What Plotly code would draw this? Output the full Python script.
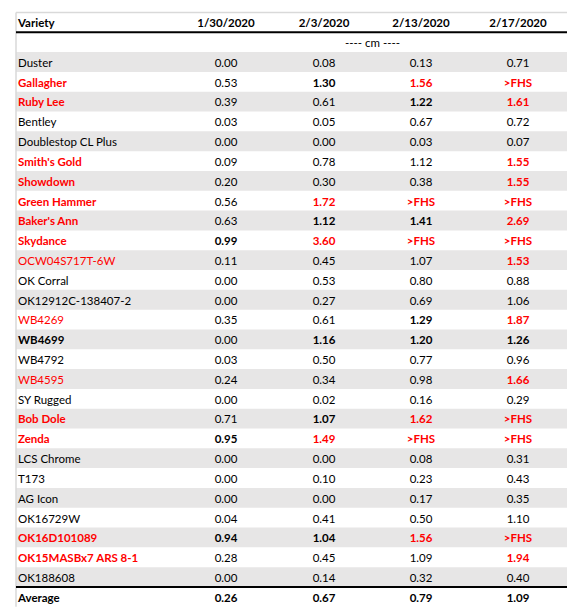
import plotly.graph_objects as go

# ---- data ----
dates = ['1/30/2020', '2/3/2020', '2/13/2020', '2/17/2020']
unit_label = '---- cm ----'
FHS = '>FHS'

varieties = ['Duster', 'Gallagher', 'Ruby Lee', 'Bentley', 'Doublestop CL Plus',
             "Smith's Gold", 'Showdown', 'Green Hammer', "Baker's Ann", 'Skydance',
             'OCW04S717T-6W', 'OK Corral', 'OK12912C-138407-2', 'WB4269', 'WB4699',
             'WB4792', 'WB4595', 'SY Rugged', 'Bob Dole', 'Zenda', 'LCS Chrome',
             'T173', 'AG Icon', 'OK16729W', 'OK16D101089', 'OK15MASBx7 ARS 8-1',
             'OK188608']

jan30 = [0.00, 0.53, 0.39, 0.03, 0.00, 0.09, 0.20, 0.56, 0.63, 0.99, 0.11, 0.00, 0.00,
         0.35, 0.00, 0.03, 0.24, 0.00, 0.71, 0.95, 0.00, 0.00, 0.00, 0.04, 0.94, 0.28, 0.00]
feb3 = [0.08, 1.30, 0.61, 0.05, 0.00, 0.78, 0.30, 1.72, 1.12, 3.60, 0.45, 0.53, 0.27,
        0.61, 1.16, 0.50, 0.34, 0.02, 1.07, 1.49, 0.00, 0.10, 0.00, 0.41, 1.04, 0.45, 0.14]
feb13 = [0.13, 1.56, 1.22, 0.67, 0.03, 1.12, 0.38, FHS, 1.41, FHS, 1.07, 0.80, 0.69,
         1.29, 1.20, 0.77, 0.98, 0.16, 1.62, FHS, 0.08, 0.23, 0.17, 0.50, 1.56, 1.09, 0.32]
feb17 = [0.71, FHS, 1.61, 0.72, 0.07, 1.55, 1.55, FHS, 2.69, FHS, 1.53, 0.88, 1.06,
         1.87, 1.26, 0.96, 1.66, 0.29, FHS, FHS, 0.31, 0.43, 0.35, 1.10, FHS, 1.94, 0.40]
averages = [0.26, 0.67, 0.79, 1.09]

# highlighting from the sheet
red_names_bold = ['Gallagher', 'Ruby Lee', "Smith's Gold", 'Showdown', 'Green Hammer',
                  "Baker's Ann", 'Skydance', 'Bob Dole', 'Zenda', 'OK16D101089',
                  'OK15MASBx7 ARS 8-1']
red_names_plain = ['OCW04S717T-6W', 'WB4269', 'WB4595']
bold_names = ['WB4699']
bold_cells = {('Gallagher', 1), ('Ruby Lee', 2), ("Baker's Ann", 1), ("Baker's Ann", 2),
              ('Skydance', 0), ('WB4269', 2), ('WB4699', 1), ('WB4699', 2), ('WB4699', 3),
              ('Bob Dole', 1), ('Zenda', 0), ('OK16D101089', 0), ('OK16D101089', 1)}
red_cells = {('Gallagher', 2), ('Gallagher', 3), ('Ruby Lee', 3), ("Smith's Gold", 3),
             ('Showdown', 3), ('Green Hammer', 1), ('Green Hammer', 2), ('Green Hammer', 3),
             ("Baker's Ann", 3), ('Skydance', 1), ('Skydance', 2), ('Skydance', 3),
             ('OCW04S717T-6W', 3), ('WB4269', 3), ('WB4595', 3), ('Bob Dole', 2),
             ('Bob Dole', 3), ('Zenda', 1), ('Zenda', 2), ('Zenda', 3), ('OK16D101089', 2),
             ('OK16D101089', 3), ('OK15MASBx7 ARS 8-1', 3)}

RED = '#ff0000'
BLACK = '#000000'
BAND = '#e7e6e6'
EDGE = '#d9d9d9'
FONT = 'Lato, "Noto Sans", sans-serif'
SIZE = 11.5

# page is 584x616, the html body adds an 8px margin, so the figure is 576x608
# and the axes are set up in page pixels (x) / row units (y)
PAGE_W, PAGE_H, BODY = 584, 616, 8
ROW = 19.81
TOP_TEXT = 64          # page pixel y of first data row text
LEFT, RIGHT = 16, 567
name_x = 18
col_x = [226, 324, 421, 518]
n = len(varieties)
avg_row = n
header_row = -2
unit_row = -1


def fmt(v):
    return v if isinstance(v, str) else f'{v:.2f}'


fig = go.Figure()

# alternating grey bands (every other data row, starting with the first)
shapes = []
for i in range(0, n, 2):
    shapes.append(dict(type='rect', xref='x', yref='y', x0=LEFT, x1=RIGHT,
                       y0=i - 0.6, y1=i + 0.4, fillcolor=BAND, line_width=0, layer='below'))
# outer light border (top + left)
shapes.append(dict(type='line', xref='x', yref='y', x0=LEFT, x1=RIGHT,
                   y0=header_row - 0.6, y1=header_row - 0.6, line=dict(color=EDGE, width=1.5)))
shapes.append(dict(type='line', xref='x', yref='y', x0=LEFT, x1=LEFT,
                   y0=header_row - 0.6, y1=avg_row + 0.4, line=dict(color=EDGE, width=1.5)))
# heavy rules under header and above average
for yy in (header_row + 0.4, avg_row - 0.6):
    shapes.append(dict(type='line', xref='x', yref='y', x0=LEFT, x1=RIGHT,
                       y0=yy, y1=yy, line=dict(color=BLACK, width=2)))

# header
fig.add_trace(go.Scatter(x=[name_x], y=[header_row], mode='text', text=['<b>Variety</b>'],
                         textposition='middle right', hoverinfo='skip',
                         textfont=dict(family=FONT, size=SIZE, color=BLACK)))
fig.add_trace(go.Scatter(x=col_x, y=[header_row] * len(dates), mode='text',
                         text=[f'<b>{d}</b>' for d in dates], textposition='middle center',
                         hoverinfo='skip', textfont=dict(family=FONT, size=SIZE, color=BLACK)))
fig.add_trace(go.Scatter(x=[(col_x[1] + col_x[2]) / 2], y=[unit_row], mode='text',
                         text=[unit_label], textposition='middle center', hoverinfo='skip',
                         textfont=dict(family=FONT, size=SIZE, color=BLACK)))

# variety names
name_txt, name_col = [], []
for v in varieties:
    if v in red_names_bold:
        name_txt.append(f'<b>{v}</b>'); name_col.append(RED)
    elif v in red_names_plain:
        name_txt.append(v); name_col.append(RED)
    elif v in bold_names:
        name_txt.append(f'<b>{v}</b>'); name_col.append(BLACK)
    else:
        name_txt.append(v); name_col.append(BLACK)
name_txt.append('<b>Average</b>'); name_col.append(BLACK)
fig.add_trace(go.Scatter(x=[name_x] * (n + 1), y=list(range(n + 1)), mode='text',
                         text=name_txt, textposition='middle right', hoverinfo='skip',
                         textfont=dict(family=FONT, size=SIZE, color=name_col)))

# value columns (red cells are bold red, bold cells bold black)
for c, vals in enumerate([jan30, feb3, feb13, feb17]):
    txt, col = [], []
    for v, val in zip(varieties, vals):
        s = fmt(val)
        if (v, c) in red_cells:
            col.append(RED); txt.append(f'<b>{s}</b>')
        elif (v, c) in bold_cells:
            col.append(BLACK); txt.append(f'<b>{s}</b>')
        else:
            col.append(BLACK); txt.append(s)
    txt.append(f'<b>{fmt(averages[c])}</b>'); col.append(BLACK)
    fig.add_trace(go.Scatter(x=[col_x[c]] * (n + 1), y=list(range(n + 1)), mode='text',
                             text=txt, textposition='middle center', hoverinfo='skip',
                             textfont=dict(family=FONT, size=SIZE, color=col)))

fig.update_layout(
    width=PAGE_W - BODY, height=PAGE_H - BODY,
    margin=dict(l=0, r=0, t=0, b=0),
    paper_bgcolor='white', plot_bgcolor='white',
    showlegend=False,
    shapes=shapes,
    xaxis=dict(range=[BODY, PAGE_W], visible=False, fixedrange=True),
    yaxis=dict(range=[(PAGE_H - TOP_TEXT) / ROW, (BODY - TOP_TEXT) / ROW],
               visible=False, fixedrange=True),
)

fig.write_html('out.html')
